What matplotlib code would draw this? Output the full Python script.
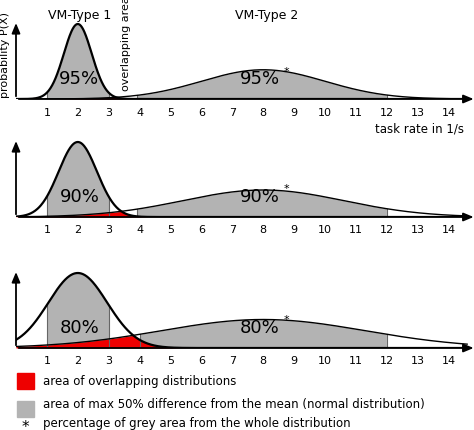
import numpy as np
import matplotlib
matplotlib.use("Agg")
import matplotlib.pyplot as plt
from matplotlib.patches import Rectangle

# data
mu1, mu2 = 2.0, 8.0
sigma1 = [0.45, 0.62, 0.95]
sigma2 = [2.0, 2.6, 3.3]
amp1 = [1.0, 1.0, 1.0]
amp2 = [0.39, 0.36, 0.38]
grey1 = (1, 3)
grey2 = [(3.9, 12), (3.9, 12), (4.0, 12)]
pct = ["95%", "90%", "80%"]
ticks = list(range(1, 15))

W, H = 474, 431
fig = plt.figure(figsize=(W/100, H/100), dpi=100)
baselines = [100, 218, 349]
ppu = 30.9
x0px = 16
xmax = 14.9
for i, base in enumerate(baselines):
    hpx = 90
    ax = fig.add_axes([x0px/W, 1-base/H, xmax*ppu/W, hpx/H])
    ax.set_xlim(0, xmax); ax.set_ylim(0, 1.2)
    ax.axis("off")
    x = np.linspace(0, 14.6, 800)
    f1 = amp1[i]*np.exp(-(x-mu1)**2/(2*sigma1[i]**2))
    f2 = amp2[i]*np.exp(-(x-mu2)**2/(2*sigma2[i]**2))
    m = (x >= grey1[0]) & (x <= grey1[1])
    ax.fill_between(x[m], 0, f1[m], color="#b3b3b3", lw=0)
    m2 = (x >= grey2[i][0]) & (x <= grey2[i][1])
    ax.fill_between(x[m2], 0, f2[m2], color="#b3b3b3", lw=0)
    for xv in grey1:
        ax.plot([xv, xv], [0, amp1[i]*np.exp(-(xv-mu1)**2/(2*sigma1[i]**2))], color="#666", lw=0.8)
    for xv in grey2[i]:
        ax.plot([xv, xv], [0, amp2[i]*np.exp(-(xv-mu2)**2/(2*sigma2[i]**2))], color="#666", lw=0.8)
    ax.fill_between(x, 0, np.minimum(f1, f2), color="#ee0000", lw=0)
    ax.plot(x, f1, color="black", lw=1.6)
    ax.plot(x, f2, color="black", lw=1.0)
    ax.annotate("", xy=(14.9, 0), xytext=(0, 0), annotation_clip=False,
                arrowprops=dict(arrowstyle="-|>,head_width=0.25,head_length=0.6", color="black", lw=1.3))
    ax.annotate("", xy=(0, 1.05), xytext=(0, 0), annotation_clip=False,
                arrowprops=dict(arrowstyle="-|>,head_width=0.25,head_length=0.6", color="black", lw=1.3))
    for t in ticks:
        ax.text(t, -0.1, str(t), ha="center", va="top", fontsize=8)
    ax.text(2.05, 0.28, pct[i], ha="center", va="center", fontsize=13)
    ax.text(7.9, 0.28, pct[i], ha="center", va="center", fontsize=13)
    ax.text(8.75, 0.38, "*", ha="center", va="center", fontsize=8)
    if i == 0:
        ax.text(14.5, -0.3, "task rate in 1/s", ha="right", va="top", fontsize=8.5)
        ax.text(2.05, 1.12, "VM-Type 1", ha="center", va="center", fontsize=9)
        ax.text(8.1, 1.12, "VM-Type 2", ha="center", va="center", fontsize=9)
        ax.text(3.55, 0.12, "overlapping area", rotation=90, ha="center", va="bottom", fontsize=8)
        ax.text(-0.35, 0.02, "probability P(X)", rotation=90, ha="center", va="bottom", fontsize=8)

fig.patches.append(Rectangle((17/W, 1-390/H), 17/W, 16/H, transform=fig.transFigure, color="#ee0000"))
fig.patches.append(Rectangle((17/W, 1-418/H), 17/W, 16/H, transform=fig.transFigure, color="#b3b3b3"))
fig.text(25/W, 1-428/H, "*", ha="center", va="center", fontsize=11)
fig.text(43/W, 1-382/H, "area of overlapping distributions", va="center", fontsize=8.5)
fig.text(43/W, 1-405/H, "area of max 50% difference from the mean (normal distribution)", va="center", fontsize=8.5)
fig.text(43/W, 1-424/H, "percentage of grey area from the whole distribution", va="center", fontsize=8.5)
fig.savefig("out.png", dpi=100)
